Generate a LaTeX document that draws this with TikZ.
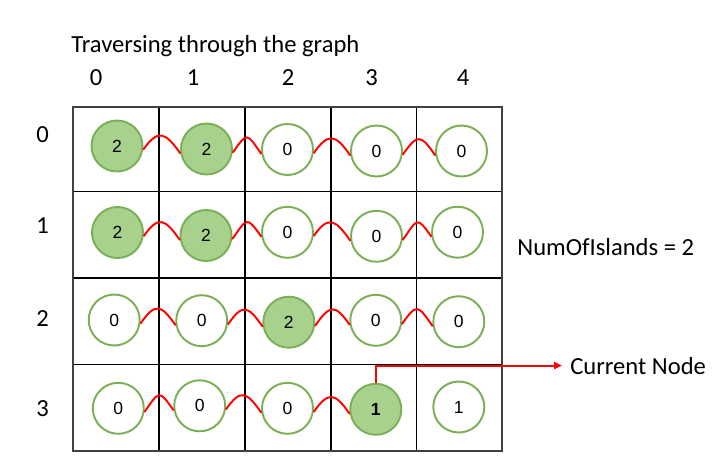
\documentclass[tikz,border=0pt]{standalone}
\usepackage{fontspec}
\setmainfont{Carlito}
\newfontfamily\arialfont{Liberation Sans}
\usepackage{xcolor}
\usetikzlibrary{arrows.meta}
\definecolor{leaf}{HTML}{A9D18E}
\definecolor{leafline}{HTML}{7AB055}
\definecolor{gridgray}{HTML}{404040}
\definecolor{hop}{HTML}{FF0000}
\tikzset{
  cell/.style={draw=black, line width=0.7pt},
  frame/.style={draw=gridgray, line width=1.2pt},
  vis/.style={circle, draw=leafline, fill=leaf, line width=1.1pt, minimum size=1.02cm, inner sep=0pt, font=\arialfont\fontsize{10}{12}\selectfont},
  unvis/.style={vis, fill=white},
  hump/.style={draw=hop, line width=1.1pt, to path={.. controls +(55:26) and +(125:26) .. (\tikztotarget)}},
  pointer/.style={-{Triangle[length=4.5pt,width=4pt]}, draw=hop, line width=1.1pt},
  lab/.style={font=\fontsize{14}{16}\selectfont, inner sep=0pt}
}
\begin{document}
\begin{tikzpicture}[x=0.02cm, y=0.02cm]
  \useasboundingbox (0,0) rectangle (726,471);

  % grid
  \draw[cell] (159,20) -- (159,364.3);
  \draw[cell] (245,20) -- (245,364.3);
  \draw[cell] (331,20) -- (331,364.3);
  \draw[cell] (416.5,20) -- (416.5,364.3);
  \draw[cell] (73.3,279.5) -- (501.7,279.5);
  \draw[cell] (73.3,193) -- (501.7,193);
  \draw[cell] (73.3,106.7) -- (501.7,106.7);
  \draw[frame] (73.3,20) rectangle (501.7,364.3);

  % headers
  \node[lab, anchor=base west] (title) at (71,418.3) {Traversing through the graph};
  \node[lab, anchor=base] (c0) at (96,386) {0};
  \node[lab, anchor=base] (c1) at (193,386) {1};
  \node[lab, anchor=base] (c2) at (288,386) {2};
  \node[lab, anchor=base] (c3) at (371.7,386) {3};
  \node[lab, anchor=base] (c4) at (463,386) {4};
  \node[lab, anchor=base] (r0) at (42.7,328.3) {0};
  \node[lab, anchor=base] (r1) at (42.7,238) {1};
  \node[lab, anchor=base] (r2) at (42.7,145) {2};
  \node[lab, anchor=base] (r3) at (42.7,55) {3};

  % cells
  \node[vis] (n00) at (117,325) {2};
  \node[vis] (n01) at (206.5,322) {2};
  \node[unvis] (n02) at (287.5,321.5) {0};
  \node[unvis] (n03) at (376.5,320) {0};
  \node[unvis] (n04) at (461.5,320) {0};
  \node[vis] (n10) at (117.5,238.5) {2};
  \node[vis] (n11) at (206,235.5) {2};
  \node[unvis] (n12) at (287.5,238.7) {0};
  \node[unvis] (n13) at (376.5,234.7) {0};
  \node[unvis] (n14) at (457.5,238.8) {0};
  \node[unvis] (n20) at (114.2,151) {0};
  \node[unvis] (n21) at (201.7,150.3) {0};
  \node[vis] (n22) at (288.8,148.8) {2};
  \node[unvis] (n23) at (375.8,150.7) {0};
  \node[unvis] (n24) at (458.8,149.3) {0};
  \node[unvis] (n30) at (118.3,62.7) {0};
  \node[unvis] (n31) at (199.7,65.2) {0};
  \node[unvis] (n32) at (287.5,62.7) {0};
  \node[vis] (n33) at (375.8,61.7) {\bfseries 1};
  \node[unvis] (n34) at (458.8,64) {1};

  % traversal
  \draw[hump] (n00.-8) to (n01.190);
  \draw[hump] (n01.-8) to (n02.190);
  \draw[hump] (n02.-8) to (n03.190);
  \draw[hump] (n03.-8) to (n04.190);
  \draw[hump] (n10.-8) to (n11.190);
  \draw[hump] (n11.-8) to (n12.190);
  \draw[hump] (n12.-8) to (n13.190);
  \draw[hump] (n13.-8) to (n14.190);
  \draw[hump] (n20.-8) to (n21.190);
  \draw[hump] (n21.-8) to (n22.190);
  \draw[hump] (n22.-8) to (n23.190);
  \draw[hump] (n23.-8) to (n24.190);
  \draw[hump] (n30.-8) to (n31.190);
  \draw[hump] (n31.-8) to (n32.190);
  \draw[hump] (n32.-8) to (n33.190);

  \node[lab, anchor=base west] (count) at (517,216) {NumOfIslands = 2};
  \node[lab, anchor=base west, inner xsep=0.16cm] (curnode) at (562,97) {Current Node};
  \draw[pointer] (n33.north) |- (curnode.west);
\end{tikzpicture}
\end{document}
